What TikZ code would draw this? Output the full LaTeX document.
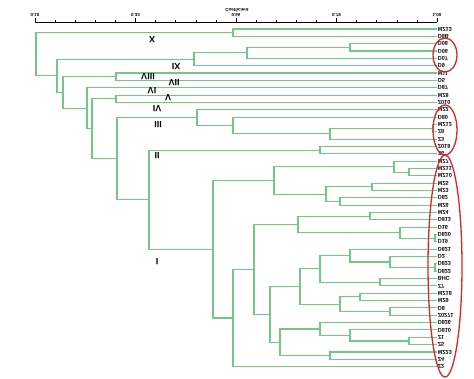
\documentclass[tikz,border=0pt]{standalone}
\usepackage{fontspec}
\setmainfont{Liberation Sans}
\usepackage{graphicx}
\usetikzlibrary{calc}
\definecolor{treegreen}{RGB}{118,198,138}
\definecolor{ringred}{RGB}{214,40,40}
\tikzset{
	branch/.style={draw=treegreen,line width=1.1pt},
	leaf/.style={anchor=west,inner sep=0.6pt,font=\fontsize{5.5}{6}\selectfont\bfseries},
	grp/.style={inner sep=0pt,font=\fontsize{9}{10}\selectfont\bfseries},
	scale label/.style={inner sep=0pt,font=\fontsize{4.5}{5}\selectfont\bfseries},
	ring/.style={draw=ringred,line width=1.3pt}
}
\newcommand{\upside}[1]{\scalebox{1}[-1]{#1}}
\newcommand{\merge}[4]{%
	\path ($(#3)!0.5!(#4)$) coordinate (m#1);
	\coordinate (#1) at (#2,0 |- m#1);
	\draw[branch] (#3) -| (#1) |- (#4);
}

\begin{document}
\begin{tikzpicture}[x=1pt,y=-1pt]
\fill[white] (0,0) rectangle (474,378);
\useasboundingbox (0,0) rectangle (474,378);
% scale
\node[scale label] (title) at (237,10) {\upside{Coefficient}};
\draw[line width=0.5pt] (35,22) -- (437,22);
\foreach \k in {0,...,20}
	\draw[line width=0.5pt] (35+20.1*\k,22) -- ++(0,-2);
\foreach \v [count=\k from 0] in {0.10,0.33,0.55,0.78,1.00} {
	\draw[line width=0.5pt] (35+100.5*\k,22) -- ++(0,-4);
	\node[scale label] (v\k) at (35+100.5*\k,15) {\upside{\v}};
}
% leaves
\foreach \name [count=\i] in {MZ13,D8B,D08,D06,D07,D9,M11,D5,D87,MZ8,Z010,MZ2,D80,MZ12,Z8,Z3,Z018,Z6,MZ7,MZ11,MZ10,MZ5,MZ3,D82,MZ6,MZ4,D813,D16,D820,D19,D821,D2,D823,D822,BHC,Z7,MZ18,MZ9,D8,Z0271,D826,D810,Z1,Z5,MZ23,Z4,Z2} {
	\coordinate (l\i) at (437,{29+(\i-1)*7.34});
	\node[leaf] (t\i) at (l\i) {\upside{\name}};
}
% top groups
\merge{j12}{233}{l1}{l2}
\merge{j34}{350}{l3}{l4}
\merge{j35}{247}{j34}{l5}
\merge{j36}{194}{j35}{l6}
\merge{j78}{116}{l7}{l8}
\merge{j1011}{116}{l10}{l11}
\merge{j1415}{433}{l14}{l15}
\merge{j1416}{330}{j1415}{l16}
\merge{j1316}{233}{l13}{j1416}
\merge{jIII}{197}{l12}{j1316}
\merge{j1718}{320}{l17}{l18}
% group I
\merge{k1}{409}{l20}{l21}
\merge{k2}{394}{l19}{k1}
\merge{k3}{372}{l22}{l23}
\merge{k4}{340}{l24}{l25}
\merge{k5}{326}{k3}{k4}
\merge{k6}{274}{k2}{k5}
\merge{k7}{435}{l29}{l30}
\merge{k8}{400}{l28}{k7}
\merge{k9}{370}{l26}{l27}
\merge{k10}{298}{k9}{k8}
\merge{k11}{435}{l33}{l34}
\merge{k12}{390}{l32}{k11}
\merge{k13}{350}{l31}{k12}
\merge{k14}{380}{l35}{l36}
\merge{k15}{320}{k13}{k14}
\merge{k17}{360}{l37}{l38}
\merge{k18}{390}{l39}{l40}
\merge{k19}{340}{k17}{k18}
\merge{k20}{300}{k15}{k19}
\merge{k22}{409}{l43}{l44}
\merge{k23}{350}{l42}{k22}
\merge{k24}{320}{l41}{k23}
\merge{k25}{330}{l45}{l46}
\merge{k26}{280}{k24}{k25}
\merge{k27}{270}{k20}{k26}
\merge{k28}{254}{k10}{k27}
\merge{k29}{233}{k28}{l47}
\merge{jI}{213}{k6}{k29}
% joining the groups
\merge{jII}{149}{j1718}{jI}
\merge{jF}{117}{jIII}{jII}
\merge{jE}{92}{j1011}{jF}
\merge{jD}{87}{l9}{jE}
\merge{jC}{63}{j78}{jD}
\merge{jB}{57}{j36}{jC}
\merge{root}{36}{j12}{jB}
% group names
\node[grp] (gX) at (152,40) {\upside{X}};
\node[grp] (gIX) at (176,67) {\upside{IX}};
\node[grp] (gVIII) at (148,77) {\upside{VIII}};
\node[grp] (gVII) at (174,83) {\upside{VII}};
\node[grp] (gVI) at (152,91) {\upside{VI}};
\node[grp] (gV) at (168,98) {\upside{V}};
\node[grp] (gIV) at (157,109) {\upside{IV}};
\node[grp] (gIII) at (158,125) {\upside{III}};
\node[grp] (gII) at (157,156) {\upside{II}};
\node[grp] (gI) at (157,262) {\upside{I}};
% rings
\draw[ring] (445,55) ellipse [x radius=12pt,y radius=17pt];
\draw[ring] (445,130) ellipse [x radius=12pt,y radius=25pt];
\draw[ring] (445,266) ellipse [x radius=17pt,y radius=111pt];
\end{tikzpicture}
\end{document}
